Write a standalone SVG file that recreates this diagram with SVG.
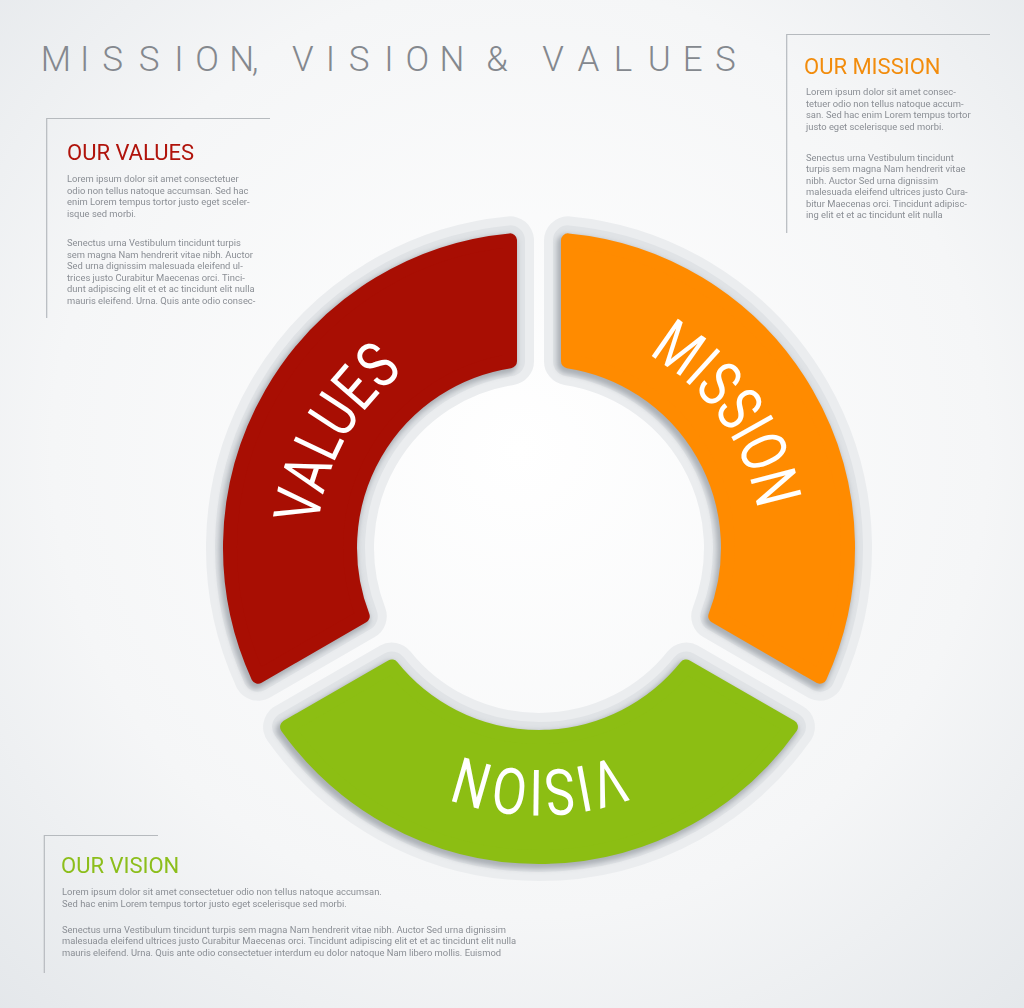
<svg xmlns="http://www.w3.org/2000/svg" width="1024" height="1008" viewBox="0 0 1024 1008">
  <defs>
    <radialGradient id="bg" cx="520" cy="450" r="850" gradientUnits="userSpaceOnUse">
      <stop offset="0" stop-color="#ffffff"/>
      <stop offset="0.55" stop-color="#f5f6f7"/>
      <stop offset="1" stop-color="#dfe3e7"/>
    </radialGradient>
    <filter id="shadow" x="-20%" y="-20%" width="140%" height="140%">
      <feGaussianBlur stdDeviation="2.5"/>
    </filter>
    <path id="seg-values" d="M258.08,676.71 A309,309 0 0 1 510,240.36 L510,361.24 A189,189 0 0 0 362.76,616.27 Z"/>
    <path id="seg-mission" d="M568,240.36 A309,309 0 0 1 819.92,676.71 L715.24,616.27 A189,189 0 0 0 568,361.24 Z"/>
    <path id="seg-vision" d="M790.92,726.93 A309,309 0 0 1 287.08,726.93 L391.76,666.49 A189,189 0 0 0 686.24,666.49 Z"/>
    <path id="label-arc" d="M761,548 A222,222 0 1 1 317,548 A222,222 0 1 1 761,548"/>
  </defs>
  <style>
    .title { font-family: Roboto, "Liberation Sans", sans-serif; font-weight: 300; font-size: 35px; fill: #84888e; }
    .head { font-family: Roboto, "Liberation Sans", sans-serif; font-weight: 400; font-size: 22px; }
    .body { font-family: Roboto, "Liberation Sans", sans-serif; font-weight: 400; font-size: 9.4px; fill: #8a8e94; }
    .frame { stroke: #b6babe; stroke-width: 1.2; fill: none; }
    .halo1 { fill: #ebedef; stroke: #ebedef; stroke-width: 48; stroke-linejoin: round; }
    .halo2 { fill: #e0e3e6; stroke: #e0e3e6; stroke-width: 30; stroke-linejoin: round; }
    .shade { fill: #959aa1; stroke: #959aa1; stroke-width: 18; stroke-linejoin: round; opacity: 0.7; }
    .seg { stroke-width: 14; stroke-linejoin: round; }
    .label { font-family: Roboto, "Liberation Sans", sans-serif; font-weight: 400; font-size: 64px; fill: #ffffff; }
  </style>

  <rect x="0" y="0" width="1024" height="1008" fill="url(#bg)"/>

  <g id="title">
    <text class="title" y="71" text-anchor="middle" x="56 84.6 112.7 149 179 207 241.8 255 275 302.9 330.5 359 389 417.3 451.9 475 497 525 553 588.5 623 659.3 692.8 725.4">MISSION, VISION &amp; VALUES</text>
  </g>

  <g id="ring-base">
    <use href="#seg-values" class="halo1"/>
    <use href="#seg-mission" class="halo1"/>
    <use href="#seg-vision" class="halo1"/>
    <use href="#seg-values" class="halo2"/>
    <use href="#seg-mission" class="halo2"/>
    <use href="#seg-vision" class="halo2"/>
    <g filter="url(#shadow)">
      <use href="#seg-values" class="shade" transform="translate(-2,3)"/>
      <use href="#seg-mission" class="shade" transform="translate(-2,3)"/>
      <use href="#seg-vision" class="shade" transform="translate(-2,3)"/>
    </g>
  </g>

  <g id="node-values">
    <use href="#seg-values" class="seg" fill="#a80e03" stroke="#a80e03"/>
    <text class="label"><textPath href="#label-arc" startOffset="58.1%" text-anchor="middle" textLength="180" lengthAdjust="spacingAndGlyphs">VALUES</textPath></text>
  </g>

  <g id="node-mission">
    <use href="#seg-mission" class="seg" fill="#ff8b00" stroke="#ff8b00"/>
    <text class="label"><textPath href="#label-arc" startOffset="90.2%" text-anchor="middle" textLength="196" lengthAdjust="spacingAndGlyphs">MISSION</textPath></text>
  </g>

  <g id="node-vision">
    <use href="#seg-vision" class="seg" fill="#8cbe13" stroke="#8cbe13"/>
    <text class="label"><textPath href="#label-arc" startOffset="25%" text-anchor="middle" textLength="160" lengthAdjust="spacingAndGlyphs">VISION</textPath></text>
  </g>

  <g id="connectors"></g>

  <g id="panel-values">
    <path class="frame" d="M270,118.5 H46.7 V318"/>
    <text class="head" x="67" y="160" fill="#b0130b">OUR VALUES</text>
    <text class="body" x="67">
      <tspan x="67" y="182">Lorem ipsum dolor sit amet consectetuer</tspan>
      <tspan x="67" y="193.5">odio non tellus natoque accumsan. Sed hac</tspan>
      <tspan x="67" y="205">enim Lorem tempus tortor justo eget sceler-</tspan>
      <tspan x="67" y="216.5">isque sed morbi.</tspan>
      <tspan x="67" y="246">Senectus urna Vestibulum tincidunt turpis</tspan>
      <tspan x="67" y="257.5">sem magna Nam hendrerit vitae nibh. Auctor</tspan>
      <tspan x="67" y="269">Sed urna dignissim malesuada eleifend ul-</tspan>
      <tspan x="67" y="280.5">trices justo Curabitur Maecenas orci. Tinci-</tspan>
      <tspan x="67" y="292">dunt adipiscing elit et et ac tincidunt elit nulla</tspan>
      <tspan x="67" y="303.5">mauris eleifend. Urna. Quis ante odio consec-</tspan>
    </text>
  </g>

  <g id="panel-mission">
    <path class="frame" d="M990,34.5 H786.7 V233"/>
    <text class="head" x="804" y="73.5" fill="#f28c0c">OUR MISSION</text>
    <text class="body">
      <tspan x="806" y="95">Lorem ipsum dolor sit amet consec-</tspan>
      <tspan x="806" y="106.7">tetuer odio non tellus natoque accum-</tspan>
      <tspan x="806" y="118.3">san. Sed hac enim Lorem tempus tortor</tspan>
      <tspan x="806" y="130">justo eget scelerisque sed morbi.</tspan>
      <tspan x="806" y="161">Senectus urna Vestibulum tincidunt</tspan>
      <tspan x="806" y="172.3">turpis sem magna Nam hendrerit vitae</tspan>
      <tspan x="806" y="183.7">nibh. Auctor Sed urna dignissim</tspan>
      <tspan x="806" y="195">malesuada eleifend ultrices justo Cura-</tspan>
      <tspan x="806" y="206.7">bitur Maecenas orci. Tincidunt adipisc-</tspan>
      <tspan x="806" y="218.3">ing elit et et ac tincidunt elit nulla</tspan>
    </text>
  </g>

  <g id="panel-vision">
    <path class="frame" d="M158,835.5 H44.3 V973"/>
    <text class="head" x="61" y="873" fill="#8cbe1b">OUR VISION</text>
    <text class="body">
      <tspan x="62" y="895">Lorem ipsum dolor sit amet consectetuer odio non tellus natoque accumsan.</tspan>
      <tspan x="62" y="906.5">Sed hac enim Lorem tempus tortor justo eget scelerisque sed morbi.</tspan>
      <tspan x="62" y="932.7">Senectus urna Vestibulum tincidunt turpis sem magna Nam hendrerit vitae nibh. Auctor Sed urna dignissim</tspan>
      <tspan x="62" y="944.2">malesuada eleifend ultrices justo Curabitur Maecenas orci. Tincidunt adipiscing elit et et ac tincidunt elit nulla</tspan>
      <tspan x="62" y="955.7">mauris eleifend. Urna. Quis ante odio consectetuer interdum eu dolor natoque Nam libero mollis. Euismod</tspan>
    </text>
  </g>
</svg>
